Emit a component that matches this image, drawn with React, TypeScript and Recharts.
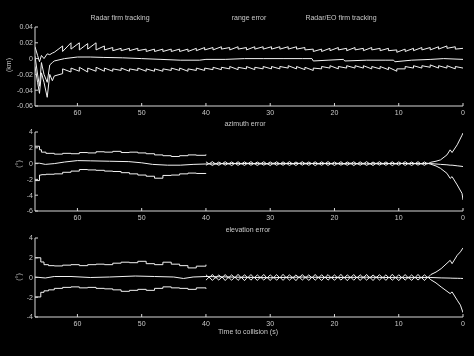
import React from "react";
import { LineChart, Line, XAxis, YAxis, ReferenceLine } from "recharts";

// time to collision runs from ~66.6 s down to 0 (axis reversed)
const X_MAX = 66.6;
const timeTicks = [60, 50, 40, 30, 20, 10, 0];
const phaseTimes = [63.6, 40, 5.1];

const rangeTicks = [-0.06, -0.04, -0.02, 0, 0.02, 0.04];
const azTicks = [-6, -4, -2, 0, 2, 4];
const elTicks = [-4, -2, 0, 2, 4];

// ---- range error (km) ----
const rangeInitT = [66.6, 66.2, 65.9, 65.6, 65.2, 64.7, 64.3, 63.9, 63.6];
const rangeInitUp = [0.015, 0.004, -0.004, 0.004, 0.0, 0.006, 0.005, 0.007, 0.008];
const rangeInitMid = [0.003, -0.02, -0.035, -0.005, -0.02, -0.03, -0.008, -0.005, -0.003];
const rangeInitLow = [-0.01, -0.03, -0.044, -0.018, -0.03, -0.049, -0.02, -0.028, -0.022];

const rangeUpdT = [
  63.6, 62.3, 61.0, 59.7, 58.4, 57.1, 55.8, 54.5, 53.2, 51.9,
  50.6, 49.3, 48.0, 46.7, 45.4, 44.1, 42.8, 41.5, 40.2, 38.9,
  37.6, 36.3, 35.0, 33.7, 32.4, 31.1, 29.8, 28.5, 27.2, 25.9,
  24.6, 23.3, 22.0, 20.7, 19.4, 18.1, 16.8, 15.5, 14.2, 12.9,
  11.6, 10.3, 9.0, 7.7, 6.4, 5.1, 3.8, 2.5, 1.2,
];
const rangeUpPeak = [
  0.008, 0.016, 0.02, 0.02, 0.019, 0.02, 0.016, 0.014, 0.013, 0.013,
  0.013, 0.012, 0.012, 0.012, 0.012, 0.012, 0.012, 0.013, 0.014, 0.014,
  0.015, 0.014, 0.015, 0.014, 0.015, 0.015, 0.015, 0.015, 0.015, 0.015,
  0.014, 0.012, 0.012, 0.013, 0.014, 0.013, 0.014, 0.013, 0.014, 0.013,
  0.013, 0.011, 0.012, 0.013, 0.014, 0.014, 0.015, 0.016, 0.015,
];
const rangeUpDrop = [
  0.008, 0.009, 0.012, 0.011, 0.012, 0.011, 0.011, 0.01, 0.01, 0.01,
  0.01, 0.009, 0.009, 0.009, 0.009, 0.009, 0.009, 0.01, 0.011, 0.011,
  0.012, 0.011, 0.012, 0.011, 0.012, 0.012, 0.012, 0.012, 0.012, 0.012,
  0.011, 0.009, 0.009, 0.01, 0.011, 0.01, 0.011, 0.01, 0.011, 0.01,
  0.01, 0.008, 0.009, 0.01, 0.011, 0.011, 0.012, 0.013, 0.012,
];
const rangeLowPeak = [
  -0.022, -0.019, -0.017, -0.016, -0.017, -0.016, -0.016, -0.016, -0.015, -0.016,
  -0.015, -0.016, -0.016, -0.016, -0.015, -0.015, -0.016, -0.015, -0.015, -0.014,
  -0.014, -0.013, -0.014, -0.013, -0.014, -0.013, -0.013, -0.013, -0.012, -0.013,
  -0.014, -0.015, -0.013, -0.012, -0.013, -0.012, -0.012, -0.012, -0.013, -0.013,
  -0.014, -0.016, -0.013, -0.012, -0.012, -0.011, -0.012, -0.012, -0.013,
];
const rangeLowDrop = [
  -0.022, -0.013, -0.012, -0.011, -0.012, -0.011, -0.012, -0.013, -0.012, -0.013,
  -0.012, -0.013, -0.013, -0.013, -0.012, -0.012, -0.013, -0.012, -0.012, -0.011,
  -0.011, -0.01, -0.011, -0.01, -0.011, -0.01, -0.01, -0.01, -0.009, -0.01,
  -0.011, -0.012, -0.01, -0.009, -0.01, -0.009, -0.009, -0.009, -0.01, -0.01,
  -0.011, -0.013, -0.01, -0.009, -0.009, -0.008, -0.009, -0.009, -0.01,
];
const rangeEndT = [0];
const rangeEndUp = [0.013];
const rangeEndLow = [-0.012];

const rangeMidT = [63.6, 62, 60, 58, 56, 53, 50, 47, 44, 41, 40, 37, 34, 31, 28, 25, 23.5, 23.3, 21, 18.6, 18.4, 15, 12, 10.8, 10.6, 8, 5, 3, 0];
const rangeMid = [-0.003, 0.0, 0.002, 0.002, 0.0015, 0.001, 0.0, -0.001, -0.002, -0.002, -0.001, -0.001, 0.0, 0.0, 0.0, 0.0, 0.0, -0.003, -0.002, -0.001, -0.003, -0.002, -0.002, -0.002, -0.004, -0.002, -0.001, 0.0, -0.001];

// ---- azimuth / elevation (deg) ----
const azStepT = [66.6, 65.9, 65.6, 64.9, 63.6, 62.3, 61.0, 59.7, 58.4, 57.1, 55.8, 54.5, 53.2, 51.9, 50.6, 49.3, 48.0, 46.7, 45.4, 44.1, 42.8, 41.5, 40.0];
const azStepUp = [2.2, 1.75, 1.45, 1.3, 1.2, 1.3, 1.25, 1.4, 1.35, 1.5, 1.45, 1.55, 1.4, 1.45, 1.35, 1.25, 1.1, 1.0, 0.9, 1.0, 1.1, 1.05, 1.15];
const azStepLow = [-2.15, -1.45, -1.4, -1.35, -1.3, -1.1, -0.95, -0.75, -0.8, -0.85, -0.95, -1.0, -1.15, -1.3, -1.45, -1.6, -1.85, -1.5, -1.45, -1.3, -1.2, -1.25, -1.2];
const azMidT = [66.6, 65.9, 65.0, 63.6, 62.0, 60.0, 58.0, 55.0, 52.0, 50.0, 48.3, 46.0, 44.0, 42.0, 40.0];
const azMid = [0.05, 0.05, -0.1, 0.0, 0.2, 0.38, 0.35, 0.3, 0.25, 0.1, -0.1, -0.2, -0.2, -0.1, -0.05];

const elStepT = [66.6, 65.7, 65.2, 64.5, 63.6, 62.3, 61.0, 59.7, 58.4, 57.1, 55.8, 54.5, 53.2, 51.9, 50.6, 49.3, 48.0, 46.7, 45.4, 44.1, 42.8, 41.5, 40.0];
const elStepUp = [2.0, 1.57, 1.3, 1.2, 1.17, 1.25, 1.3, 1.2, 1.3, 1.35, 1.3, 1.45, 1.55, 1.5, 1.64, 1.4, 1.3, 1.55, 1.35, 1.2, 0.97, 1.15, 1.3];
const elStepLow = [-1.97, -1.5, -1.35, -1.25, -1.1, -1.0, -0.95, -1.05, -1.0, -1.1, -1.15, -1.25, -1.4, -1.3, -1.2, -1.3, -1.1, -0.95, -1.05, -1.1, -1.2, -1.05, -1.15];
const elMidT = [66.6, 65.0, 63.6, 61.0, 58.0, 55.0, 51.0, 48.0, 45.0, 43.5, 42.0, 40.0];
const elMid = [0.05, -0.05, 0.1, 0.1, 0.0, 0.05, 0.15, 0.1, 0.05, -0.1, 0.05, 0.1];

// dense band while radar/EO tracking
const bandT = [
  40, 39.5, 39, 38.5, 38, 37.5, 37, 36.5, 36, 35.5,
  35, 34.5, 34, 33.5, 33, 32.5, 32, 31.5, 31, 30.5,
  30, 29.5, 29, 28.5, 28, 27.5, 27, 26.5, 26, 25.5,
  25, 24.5, 24, 23.5, 23, 22.5, 22, 21.5, 21, 20.5,
  20, 19.5, 19, 18.5, 18, 17.5, 17, 16.5, 16, 15.5,
  15, 14.5, 14, 13.5, 13, 12.5, 12, 11.5, 11, 10.5,
  10, 9.5, 9, 8.5, 8, 7.5, 7, 6.5, 6, 5.5,
  5,
];
const azBandUp = [
  0.22, -0.03, 0.25, -0.05, 0.2, -0.02, 0.24, -0.04, 0.21, -0.03,
  0.23, -0.05, 0.22, -0.02, 0.25, -0.04, 0.2, -0.03, 0.24, -0.05,
  0.21, -0.02, 0.23, -0.04, 0.22, -0.03, 0.25, -0.05, 0.2, -0.02,
  0.24, -0.04, 0.21, -0.03, 0.23, -0.05, 0.22, -0.02, 0.25, -0.04,
  0.2, -0.03, 0.24, -0.05, 0.21, -0.02, 0.23, -0.04, 0.22, -0.03,
  0.25, -0.05, 0.2, -0.02, 0.24, -0.04, 0.21, -0.03, 0.23, -0.05,
  0.22, -0.02, 0.25, -0.04, 0.2, -0.03, 0.24, -0.05, 0.21, -0.02,
  0.17,
];
const azBandLow = [
  -0.21, 0.04, -0.24, 0.02, -0.22, 0.05, -0.2, 0.03, -0.25, 0.04,
  -0.22, 0.02, -0.23, 0.05, -0.21, 0.03, -0.24, 0.04, -0.2, 0.02,
  -0.25, 0.05, -0.22, 0.03, -0.21, 0.04, -0.23, 0.02, -0.24, 0.05,
  -0.2, 0.03, -0.22, 0.04, -0.25, 0.02, -0.21, 0.05, -0.23, 0.03,
  -0.24, 0.04, -0.2, 0.02, -0.22, 0.05, -0.25, 0.03, -0.21, 0.04,
  -0.23, 0.02, -0.24, 0.05, -0.2, 0.03, -0.22, 0.04, -0.25, 0.02,
  -0.21, 0.05, -0.23, 0.03, -0.24, 0.04, -0.2, 0.02, -0.22, 0.05,
  -0.08,
];
const elBandUp = [
  0.28, -0.04, 0.31, -0.06, 0.26, -0.03, 0.3, -0.05, 0.27, -0.04,
  0.32, -0.06, 0.28, -0.03, 0.3, -0.05, 0.26, -0.04, 0.31, -0.06,
  0.27, -0.03, 0.29, -0.05, 0.32, -0.04, 0.28, -0.06, 0.26, -0.03,
  0.3, -0.05, 0.27, -0.04, 0.31, -0.06, 0.28, -0.03, 0.29, -0.05,
  0.26, -0.04, 0.32, -0.06, 0.27, -0.03, 0.3, -0.05, 0.28, -0.04,
  0.31, -0.06, 0.26, -0.03, 0.29, -0.05, 0.27, -0.04, 0.32, -0.06,
  0.28, -0.03, 0.3, -0.05, 0.26, -0.04, 0.31, -0.06, 0.28, -0.03,
  0.3,
];
const elBandLow = [
  -0.27, 0.05, -0.3, 0.03, -0.26, 0.06, -0.31, 0.04, -0.28, 0.05,
  -0.29, 0.03, -0.32, 0.06, -0.27, 0.04, -0.3, 0.05, -0.26, 0.03,
  -0.31, 0.06, -0.28, 0.04, -0.29, 0.05, -0.27, 0.03, -0.32, 0.06,
  -0.26, 0.04, -0.3, 0.05, -0.28, 0.03, -0.31, 0.06, -0.27, 0.04,
  -0.29, 0.05, -0.26, 0.03, -0.32, 0.06, -0.28, 0.04, -0.3, 0.05,
  -0.27, 0.03, -0.31, 0.06, -0.26, 0.04, -0.29, 0.05, -0.28, 0.03,
  -0.32, 0.06, -0.27, 0.04, -0.3, 0.05, -0.26, 0.03, -0.31, 0.06,
  -0.23,
];
const bandMidT = [40, 35, 30, 25, 20, 15, 10, 5];
const azBandMid = [-0.05, 0.02, -0.02, 0.03, 0.0, -0.02, 0.02, 0.0];
const elBandMid = [0.1, 0.03, -0.02, 0.04, 0.0, 0.03, -0.02, 0.0];

// EO-only end game, errors diverge
const azEndT = [5, 4.2, 3.5, 2.5, 2.0, 1.7, 0.9, 0.15, 0];
const azEndUp = [0.17, 0.3, 0.47, 1.1, 1.74, 1.4, 2.38, 3.6, 3.87];
const azEndMid = [0.0, -0.05, -0.1, -0.15, -0.2, -0.2, -0.28, -0.35, -0.38];
const azEndLow = [-0.08, -0.3, -0.6, -1.23, -1.87, -1.65, -2.7, -3.78, -4.6];

const elEndT = [5, 4.2, 3.4, 2.0, 1.7, 0.9, 0.4, 0];
const elEndUp = [0.3, 0.55, 0.9, 1.74, 1.4, 2.25, 2.6, 3.0];
const elEndMid = [0.0, -0.02, -0.04, -0.06, -0.07, -0.08, -0.09, -0.1];
const elEndLow = [-0.23, -0.55, -0.96, -1.63, -1.46, -2.3, -2.8, -3.56];

const BG = "#000";
const AXIS = "#d6d6d6";
const TEXT = "#c8c8c8";
const TRACE = "#f2f2f2";
const FONT = "'Liberation Sans', Arial, sans-serif";

type Pt = { t: number; v: number };
const pts = (t: number[], v: number[]): Pt[] =>
  t.map((x, i) => ({ t: x, v: v[i] })).filter((p) => p.v !== undefined);
const saw = (t: number[], a: number[], b: number[]): Pt[] =>
  t.flatMap((x, i) => [{ t: x, v: a[i] }, { t: x, v: b[i] }]);

type Series = { data: Pt[]; type?: "linear" | "stepAfter" };

const rangeSeries: Series[] = [
  { data: [...pts(rangeInitT, rangeInitUp), ...saw(rangeUpdT, rangeUpPeak, rangeUpDrop), ...pts(rangeEndT, rangeEndUp)] },
  { data: [...pts(rangeInitT, rangeInitMid), ...pts(rangeMidT, rangeMid)] },
  { data: [...pts(rangeInitT, rangeInitLow), ...saw(rangeUpdT, rangeLowPeak, rangeLowDrop), ...pts(rangeEndT, rangeEndLow)] },
];

const azSeries: Series[] = [
  { data: pts(azStepT, azStepUp), type: "stepAfter" },
  { data: pts(azStepT, azStepLow), type: "stepAfter" },
  { data: pts(azMidT, azMid) },
  { data: pts(bandT, azBandUp) },
  { data: pts(bandT, azBandLow) },
  { data: pts(bandMidT, azBandMid) },
  { data: pts(azEndT, azEndUp) },
  { data: pts(azEndT, azEndMid) },
  { data: pts(azEndT, azEndLow) },
];

const elSeries: Series[] = [
  { data: pts(elStepT, elStepUp), type: "stepAfter" },
  { data: pts(elStepT, elStepLow), type: "stepAfter" },
  { data: pts(elMidT, elMid) },
  { data: pts(bandT, elBandUp) },
  { data: pts(bandT, elBandLow) },
  { data: pts(bandMidT, elBandMid) },
  { data: pts(elEndT, elEndUp) },
  { data: pts(elEndT, elEndMid) },
  { data: pts(elEndT, elEndLow) },
];

const tickStyle = { fill: TEXT, fontSize: 7, fontFamily: FONT };

function Panel({ top, domain, yTicks, series }: { top: number; domain: [number, number]; yTicks: number[]; series: Series[] }) {
  return (
    <div style={{ position: "absolute", left: 0, top }}>
      <LineChart width={474} height={124} margin={{ top: 27, right: 11, bottom: 0, left: 0 }}>
        <XAxis xAxisId="b" type="number" dataKey="t" domain={[0, X_MAX]} reversed allowDataOverflow
          ticks={timeTicks} interval={0} tickSize={-3} tickMargin={7} height={18} stroke={AXIS} tick={tickStyle} />
        <XAxis xAxisId="t" orientation="top" type="number" dataKey="t" domain={[0, X_MAX]} reversed allowDataOverflow
          ticks={timeTicks} interval={0} tickSize={-3} tick={false} height={0} stroke={AXIS} />
        <YAxis yAxisId="l" type="number" domain={domain} allowDataOverflow ticks={yTicks} interval={0}
          tickSize={-3} tickMargin={5} width={35} stroke={AXIS} tick={tickStyle} />
        <YAxis yAxisId="r" orientation="right" type="number" domain={domain} allowDataOverflow ticks={yTicks} interval={0}
          tickSize={-3} tick={false} width={0} stroke={AXIS} />
        {series.map((s, i) => (
          <Line key={i} xAxisId="b" yAxisId="l" data={s.data} dataKey="v" type={s.type ?? "linear"}
            stroke={TRACE} strokeWidth={1} dot={false} isAnimationActive={false} />
        ))}
      </LineChart>
    </div>
  );
}

function Txt({ x, y, children, rotate }: { x: number; y: number; children: React.ReactNode; rotate?: boolean }) {
  return (
    <div style={{
      position: "absolute", left: x, top: y, transform: `translate(-50%, -50%)${rotate ? " rotate(-90deg)" : ""}`,
      color: TEXT, fontFamily: FONT, fontSize: 7, lineHeight: "8px", whiteSpace: "nowrap",
    }}>{children}</div>
  );
}

export default function App() {
  return (
    <div style={{
      position: "absolute", left: 0, top: 0, width: 474, height: 356, background: BG,
      overflow: "hidden", filter: "grayscale(1)",
    }}>
      <Panel top={0} domain={[-0.06, 0.04]} yTicks={rangeTicks} series={rangeSeries} />
      <Panel top={105} domain={[-6, 4]} yTicks={azTicks} series={azSeries} />
      <Panel top={211} domain={[-4, 4]} yTicks={elTicks} series={elSeries} />

      <div style={{ position: "absolute", left: 0, top: 0 }}>
        <LineChart width={474} height={317} margin={{ top: 27, right: 11, bottom: 0, left: 35 }}>
          <XAxis type="number" dataKey="t" domain={[0, X_MAX]} reversed hide />
          <YAxis type="number" domain={[0, 1]} hide />
          {phaseTimes.map((t) => (
            <ReferenceLine key={t} x={t} stroke={AXIS} strokeWidth={1} />
          ))}
        </LineChart>
      </div>

      <Txt x={120} y={18}>Radar firm tracking</Txt>
      <Txt x={249} y={18}>range error</Txt>
      <Txt x={341} y={18}>Radar/EO firm tracking</Txt>
      <Txt x={245} y={124}>azimuth error</Txt>
      <Txt x={248} y={230}>elevation error</Txt>
      <Txt x={248} y={332}>Time to collision (s)</Txt>
      <Txt x={9} y={65} rotate>(km)</Txt>
      <Txt x={19} y={164} rotate>(°)</Txt>
      <Txt x={19} y={277} rotate>(°)</Txt>
    </div>
  );
}
